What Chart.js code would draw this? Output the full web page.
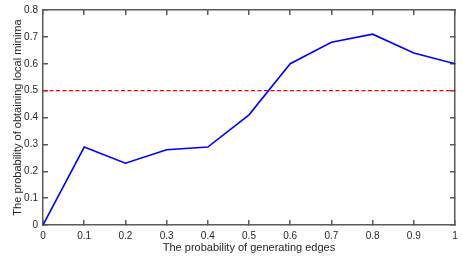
<!DOCTYPE html>
<html>
<head>
<meta charset="utf-8">
<script src="https://cdn.jsdelivr.net/npm/chart.js@4/dist/chart.umd.min.js"></script>
<style>
  body { margin: 0; background: #fff; }
  canvas { display: block; }
</style>
</head>
<body>
<canvas id="myChart" width="463" height="261"></canvas>
<script>
const edgeProb = [0, 0.1, 0.2, 0.3, 0.4, 0.5, 0.6, 0.7, 0.8, 0.9, 1];
const minimaProb = [0, 0.29, 0.23, 0.28, 0.29, 0.41, 0.60, 0.68, 0.71, 0.64, 0.60];
const threshold = 0.5;
const xRange = [0, 1];
const yRange = [0, 0.8];

const axisColor = "#5a5a5a";
const textColor = "#262626";
const fontFamily = "'Liberation Sans', Arial, sans-serif";

const fmt = (v) => String(Math.round(v * 10) / 10);

// ticks point into the plot, like matlab
const inwardGrid = {
  display: true,
  drawOnChartArea: false,
  drawTicks: true,
  tickLength: -5,
  color: axisColor,
  lineWidth: 1.5,
};
const solidBorder = { display: true, color: axisColor, width: 1.5 };

function noPad(scale) {
  scale.paddingLeft = 0;
  scale.paddingRight = 0;
  scale.paddingTop = 0;
  scale.paddingBottom = 0;
}

const ctx = document.getElementById("myChart");

new Chart(ctx, {
  type: "line",
  data: {
    datasets: [
      {
        data: edgeProb.map((x, i) => ({ x: x, y: minimaProb[i] })),
        borderColor: "#0000ff",
        borderWidth: 1.6,
        pointRadius: 0,
        tension: 0,
      },
      {
        data: xRange.map((x) => ({ x: x, y: threshold })),
        borderColor: "#ff0000",
        borderWidth: 1.3,
        borderDash: [4, 2.5],
        pointRadius: 0,
      },
    ],
  },
  options: {
    responsive: false,
    animation: false,
    layout: { padding: { top: 10, right: 8, left: 0, bottom: 0 } },
    plugins: { legend: { display: false }, tooltip: { enabled: false } },
    scales: {
      x: {
        type: "linear",
        position: "bottom",
        min: xRange[0],
        max: xRange[1],
        grid: inwardGrid,
        border: solidBorder,
        ticks: {
          stepSize: 0.1,
          padding: 10,
          maxRotation: 0,
          color: textColor,
          font: { family: fontFamily, size: 10 },
          callback: fmt,
        },
        title: {
          display: true,
          text: "The probability of generating edges",
          color: textColor,
          font: { family: fontFamily, size: 11 },
          padding: { top: 0, bottom: 6 },
        },
        afterFit(scale) { scale.height = 36; noPad(scale); },
      },
      x2: {
        type: "linear",
        position: "top",
        min: xRange[0],
        max: xRange[1],
        grid: inwardGrid,
        border: solidBorder,
        ticks: { stepSize: 0.1, display: false },
        afterFit(scale) { scale.height = 0; noPad(scale); },
      },
      y: {
        position: "left",
        min: yRange[0],
        max: yRange[1],
        grid: inwardGrid,
        border: solidBorder,
        ticks: {
          stepSize: 0.1,
          padding: 10,
          color: textColor,
          font: { family: fontFamily, size: 10 },
          callback: fmt,
        },
        title: {
          display: true,
          text: "The probability of obtaining local minima",
          color: textColor,
          font: { family: fontFamily, size: 11 },
          padding: { top: 11, bottom: 0 },
        },
        afterFit(scale) { scale.width = 43; noPad(scale); },
      },
      y2: {
        position: "right",
        min: yRange[0],
        max: yRange[1],
        grid: inwardGrid,
        border: solidBorder,
        ticks: { stepSize: 0.1, display: false },
        afterFit(scale) { scale.width = 0; noPad(scale); },
      },
    },
  },
});
</script>
</body>
</html>
